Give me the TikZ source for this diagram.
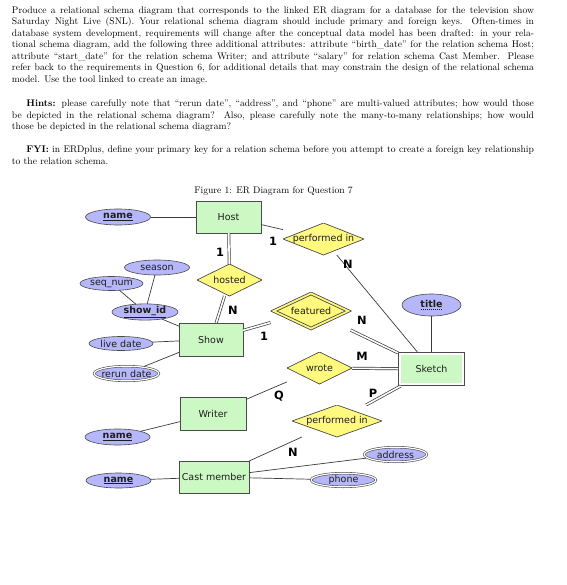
\documentclass[tikz,border=0pt]{standalone}
\usepackage{fontspec}
\newfontfamily\erfont{DejaVu Sans}
\usetikzlibrary{shapes.geometric}
\definecolor{entfill}{RGB}{204,248,196}
\definecolor{attfill}{RGB}{182,182,250}
\definecolor{relfill}{RGB}{255,250,125}
\definecolor{edgecol}{RGB}{75,75,75}
\definecolor{lncol}{RGB}{60,60,60}
\definecolor{txtcol}{RGB}{30,30,30}
\newcommand\zw[1]{\makebox[0pt]{#1}}
\newcommand\keyname[1]{\underline{\textbf{#1}}}
\newcommand\dashul[1]{\setbox0\hbox{#1}\rlap{\raisebox{-1.6pt}{\hbox to \wd0{\leaders\hbox to 2pt{\hss\rule{1.2pt}{0.5pt}\hss}\hfill}}}\box0}
\begin{document}
\begin{tikzpicture}[x=1pt,y=-1pt,
  every node/.style={inner sep=0pt, outer sep=0pt},
  erfnt/.style={font=\erfont\fontsize{9.5}{11}\selectfont, text=txtcol},
  ent/.style={rectangle, draw=edgecol, fill=entfill, line width=0.8pt, minimum width=65pt, minimum height=33pt, erfnt},
  weak/.style={rectangle, draw=edgecol, fill=entfill, line width=0.8pt, double=white, double distance=1.8pt, minimum width=63.6pt, minimum height=30.6pt, outer sep=1.7pt, erfnt},
  attr/.style={ellipse, draw=edgecol, fill=attfill, line width=0.6pt, minimum width=65pt, minimum height=16pt, erfnt},
  multi/.style={ellipse, draw=edgecol, fill=attfill, line width=0.6pt, double=white, double distance=1.2pt, outer sep=1.2pt, erfnt},
  rel/.style={rectangle, minimum width=#1, minimum height=32pt, erfnt,
    path picture={\path[draw=edgecol, fill=relfill, line width=0.7pt]
      (path picture bounding box.north) -- (path picture bounding box.east) --
      (path picture bounding box.south) -- (path picture bounding box.west) -- cycle;}},
  idrel/.style={rectangle, minimum width=81pt, minimum height=38pt, erfnt,
    path picture={\path[draw=edgecol, fill=relfill, line width=0.7pt]
      (path picture bounding box.north) -- (path picture bounding box.east) --
      (path picture bounding box.south) -- (path picture bounding box.west) -- cycle;
      \path[draw=edgecol, line width=0.7pt]
      ([yshift=-3pt]path picture bounding box.north) -- ([xshift=-6.3pt]path picture bounding box.east) --
      ([yshift=3pt]path picture bounding box.south) -- ([xshift=6.3pt]path picture bounding box.west) -- cycle;}},
  conn/.style={draw=lncol, line width=0.7pt},
  dbl/.style={draw=lncol, line width=0.7pt, double=white, double distance=1.6pt},
  card/.style={font=\erfont\bfseries\fontsize{11.4}{12}\selectfont, text=black},
  para/.style={anchor=north west, align=left, font=\fontsize{9.6}{11.5}\selectfont}
]
\useasboundingbox[fill=white] (0,0) rectangle (566,585);

% text
\node[para] (p1) at (12,6.5) {%
\makebox[522pt][s]{Produce a relational schema diagram that corresponds to the linked ER diagram for a database for the television show}\\
\makebox[522pt][s]{Saturday Night Live (SNL). Your relational schema diagram should include primary and foreign keys. Often-times in}\\
\makebox[522pt][s]{database system development, requirements will change after the conceptual data model has been drafted: in your rela-}\\
\makebox[522pt][s]{tional schema diagram, add the following three additional attributes: attribute “birth\_date” for the relation schema Host;}\\
\makebox[522pt][s]{attribute “start\_date” for the relation schema Writer; and attribute “salary” for relation schema Cast Member. Please}\\
\makebox[522pt][s]{refer back to the requirements in Question 6, for additional details that may constrain the design of the relational schema}\\
model. Use the tool linked to create an image.};

\node[para] (p2) at (12,99.8) {%
\hspace*{14.4pt}\makebox[507.6pt][s]{\textbf{Hints:} please carefully note that “rerun date”, “address”, and “phone” are multi-valued attributes; how would those}\\
\makebox[522pt][s]{be depicted in the relational schema diagram? Also, please carefully note the many-to-many relationships; how would}\\
those be depicted in the relational schema diagram?};

\node[para] (p3) at (12,146.2) {%
\hspace*{14.4pt}\makebox[507.6pt][s]{\textbf{FYI:} in ERDplus, define your primary key for a relation schema before you attempt to create a foreign key relationship}\\
to the relation schema.};

\node[anchor=base, font=\fontsize{9.6}{11.5}\selectfont] (cap) at (273.5,193.8) {Figure 1: ER Diagram for Question 7};

% entities, attributes, relationships
\node[ent, minimum width=65pt, minimum height=32pt] (host) at (228.5,217) {Host};
\node[attr] (name1) at (118,217) {\zw{\keyname{name}}};
\node[rel=81pt] (perf1) at (323.5,239) {performed in};
\node[rel=65pt] (hosted) at (229.5,280) {hosted};
\node[attr, minimum height=15pt] (season) at (157,267.5) {\zw{season}};
\node[attr, minimum width=63pt, minimum height=14pt] (seqnum) at (111.5,283.5) {\zw{seq\_num}};
\node[attr, minimum width=66pt, minimum height=15pt] (showid) at (145,312) {\zw{\keyname{show\_id}}};
\node[ent, minimum width=64pt, minimum height=33pt] (show) at (211,339.5) {Show};
\node[attr, minimum width=64pt, minimum height=14pt] (live) at (121,343.5) {\zw{live date}};
\node[multi, minimum width=64.6pt, minimum height=14.6pt] (rerun) at (126.5,373.5) {\zw{rerun date}};
\node[idrel] (featured) at (311,311) {featured};
\node[rel=65pt] (wrote) at (319.5,368) {wrote};
\node[weak] (sketch) at (431.5,369) {Sketch};
\node[attr, minimum width=59pt, minimum height=22pt] (title) at (431.5,305) {\zw{\dashul{\textbf{title}}}};
\node[ent, minimum width=66pt, minimum height=33pt] (writer) at (213,413.5) {Writer};
\node[attr] (name2) at (117.5,437) {\zw{\keyname{name}}};
\node[rel=90pt] (perf2) at (337,421) {performed in};
\node[ent, minimum width=70pt, minimum height=32pt] (cast) at (214,477) {Cast member};
\node[attr, minimum height=15pt] (name3) at (118.5,480.5) {\zw{\keyname{name}}};
\node[multi, minimum width=62.6pt, minimum height=14.6pt] (address) at (395.5,454.5) {\zw{address}};
\node[multi, minimum width=64.6pt, minimum height=13.6pt] (phone) at (343.5,480) {\zw{phone}};

% connectors
\draw[conn] (name1) -- (host);
\draw[conn] (host) -- (perf1);
\draw[dbl] (host) -- (hosted);
\draw[dbl] (hosted) -- (show);
\draw[conn] (season) -- (showid);
\draw[conn] (seqnum) -- (showid);
\draw[conn] (showid) -- (show);
\draw[conn] (live) -- (show);
\draw[conn] (rerun) -- (show);
\draw[dbl] (show) -- (featured);
\draw[dbl] (featured) -- (sketch);
\draw[conn] (perf1) -- (sketch);
\draw[conn] (title) -- (sketch);
\draw[dbl] (wrote) -- (sketch);
\draw[conn] (wrote) -- (writer);
\draw[dbl] (sketch) -- (perf2);
\draw[conn] (name2) -- (writer);
\draw[conn] (perf2) -- (cast);
\draw[conn] (name3) -- (cast);
\draw[conn] (cast) -- (address);
\draw[conn] (cast) -- (phone);

% cardinalities
\node[card] (c1) at (220,252) {1};
\node[card] (c2) at (273,241) {1};
\node[card] (c3) at (348,264) {N};
\node[card] (c4) at (233,310) {N};
\node[card] (c5) at (264,336) {1};
\node[card] (c6) at (362,320) {N};
\node[card] (c7) at (362,356) {M};
\node[card] (c8) at (373,393) {P};
\node[card] (c9) at (279,396) {Q};
\node[card] (c10) at (293,452) {N};
\end{tikzpicture}
\end{document}
